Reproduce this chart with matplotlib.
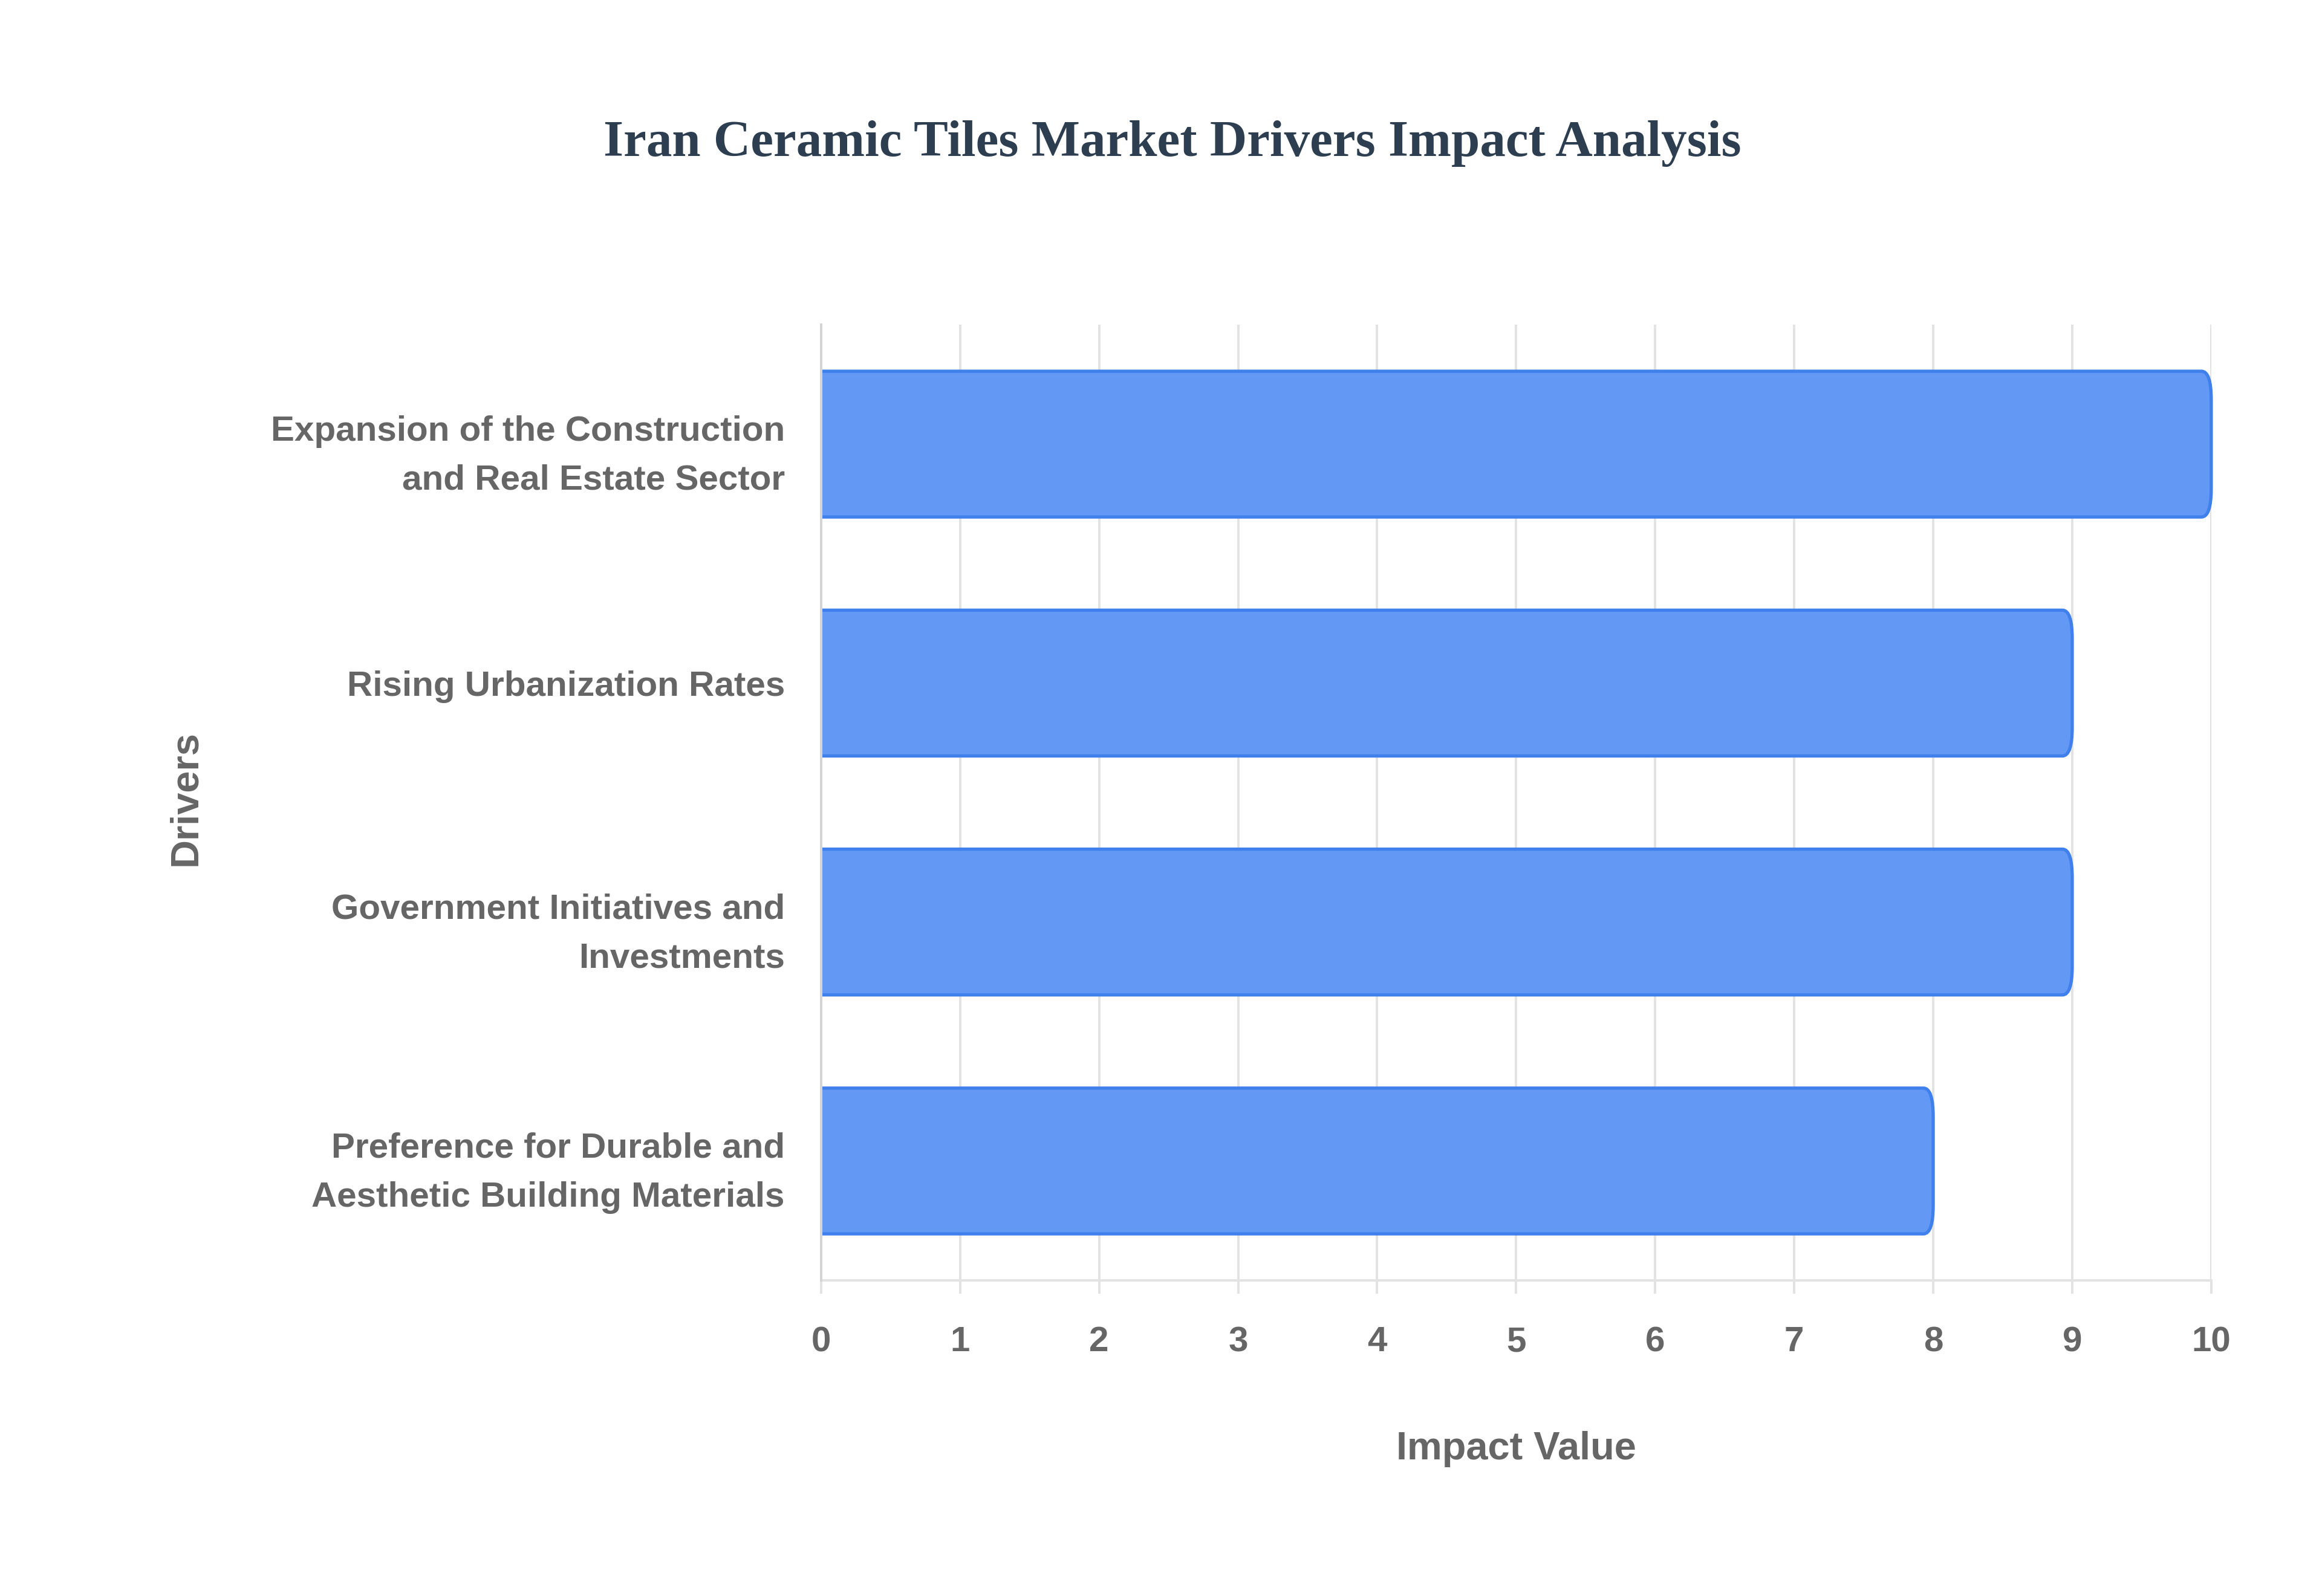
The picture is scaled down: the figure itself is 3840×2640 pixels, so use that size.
import matplotlib
matplotlib.use("Agg")
import matplotlib.pyplot as plt
from matplotlib.patches import FancyBboxPatch
from matplotlib.transforms import Bbox, TransformedBbox
import numpy as np

# data
drivers = [
    "Expansion of the Construction\nand Real Estate Sector",
    "Rising Urbanization Rates",
    "Government Initiatives and\nInvestments",
    "Preference for Durable and\nAesthetic Building Materials",
]
impact = [10, 9, 9, 8]
x_ticks = list(range(0, 11))

grey = "#666666"
grid_col = "#e3e3e3"

fig = plt.figure(figsize=(16, 11), dpi=240)
ax = fig.add_axes([0.3536, 0.1977, 0.5987, 0.5989])

pos = np.arange(len(drivers))
bars = ax.barh(pos, impact, height=0.61, color="#6399f4", edgecolor="#3f80ec",
               linewidth=1.6, zorder=3)

ax.set_ylim(len(drivers) - 0.5, -0.5)
ax.set_xlim(0, 10)

# rounded right ends, square start at the axis
bbox = ax.get_window_extent()
aspect = (bbox.width / 10) / (bbox.height / len(drivers))
r = 0.07
clip = TransformedBbox(Bbox([[0, -0.5], [10.6, len(drivers) - 0.5]]), ax.transData)
for b in bars:
    x0, y0 = b.get_x(), b.get_y()
    w, h = b.get_width(), b.get_height()
    rp = FancyBboxPatch((x0 - 2 * r, y0), w + 2 * r, h,
                        boxstyle="round,pad=0,rounding_size=%g" % r,
                        mutation_aspect=1 / aspect,
                        facecolor="#6399f4", edgecolor="#3f80ec",
                        linewidth=1.6, zorder=3)
    ax.add_patch(rp)
    rp.set_clip_box(clip)
    b.set_visible(False)

ax.set_yticks(pos)
ax.set_yticklabels(drivers, fontsize=17.5, fontweight="bold", color=grey,
                   family="Liberation Sans", linespacing=1.65)
ax.set_xticks(x_ticks)
ax.set_xticklabels([str(t) for t in x_ticks], fontsize=17.5, fontweight="bold",
                   color=grey, family="Liberation Sans")

ax.grid(axis="x", color=grid_col, linewidth=1.2, zorder=0)
ax.tick_params(axis="x", length=6.5, color=grid_col, width=1.2, pad=16)
ax.tick_params(axis="y", length=0, pad=18)
for side in ["top", "right"]:
    ax.spines[side].set_visible(False)
ax.spines["left"].set_color("#d5d5d5")
ax.spines["left"].set_zorder(4)
ax.spines["bottom"].set_color(grid_col)
ax.spines["left"].set_linewidth(1.2)
ax.spines["bottom"].set_linewidth(1.2)

ax.set_xlabel("Impact Value", fontsize=19.5, fontweight="bold", color=grey,
              family="Liberation Sans", labelpad=36)
fig.text(0.08, 0.5, "Drivers", rotation=90, ha="center", va="center",
         fontsize=19.5, fontweight="bold", color=grey, family="Liberation Sans")

fig.text(0.505, 0.91, "Iran Ceramic Tiles Market Drivers Impact Analysis",
         ha="center", va="center", fontsize=25.5, fontweight="bold",
         color="#2c3e50", family="Liberation Serif")

fig.savefig("out.png", dpi=240, facecolor="white")
